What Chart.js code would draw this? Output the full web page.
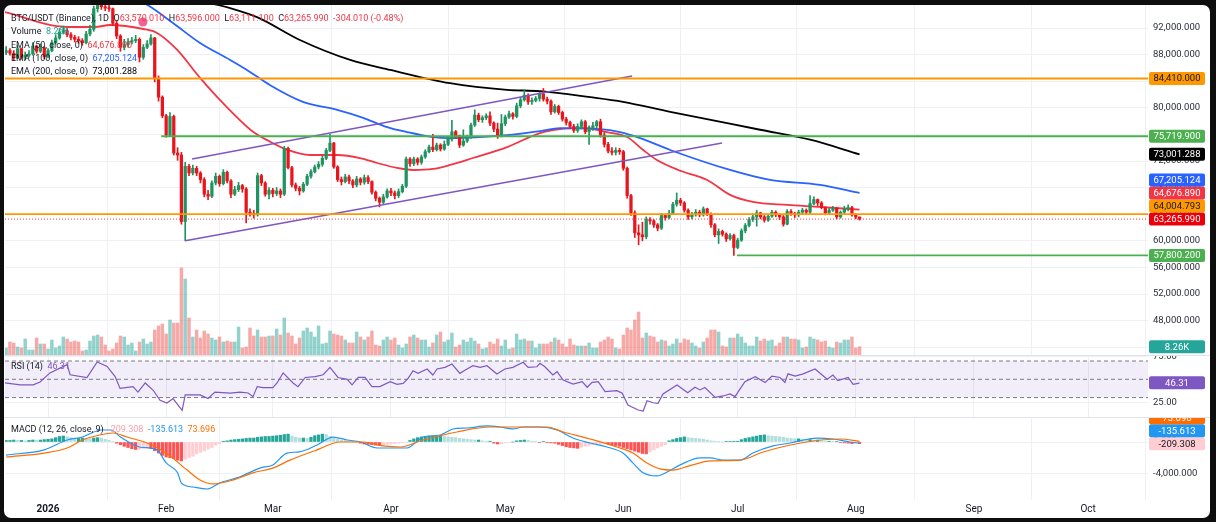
<!DOCTYPE html>
<html>
<head>
<meta charset="utf-8">
<title>BTC/USDT 1D</title>
<script src="https://cdn.jsdelivr.net/npm/chart.js@4.4.1/dist/chart.umd.min.js"></script>
<style>
  html, body { margin: 0; padding: 0; background: #0e0e0e; }
  body { width: 1216px; height: 522px; overflow: hidden; position: relative; font-family: Roboto, "Noto Sans", "DejaVu Sans", sans-serif; }
  #card { position: absolute; left: 4px; top: 5px; width: 1206px; height: 513px; background: #fff; border-radius: 7px; overflow: hidden; }
  .pane { position: absolute; left: 0; width: 1206px; }
  #mainPane { top: 0; height: 350px; }
  #rsiPane { top: 350px; height: 62px; }
  #macdPane { top: 412px; height: 101px; }
  .sep { position: absolute; left: 0; width: 1206px; height: 1px; background: #e0e3eb; }
  .legend { position: absolute; left: 7px; font-size: 9px; line-height: 13.3px; color: #131722; white-space: pre; pointer-events: none; }
  .red { color: #f23645; } .teal { color: #26a69a; } .blue { color: #2962ff; } .blk { color: #000; }
  .pur { color: #7e57c2; } .pink { color: #f7a1a8; } .sky { color: #2196f3; } .org { color: #ff6d00; }
</style>
</head>
<body>
<div id="card">
  <div class="pane" id="mainPane"><canvas id="mainChart"></canvas></div>
  <div class="pane" id="rsiPane"><canvas id="rsiChart"></canvas></div>
  <div class="pane" id="macdPane"><canvas id="macdChart"></canvas></div>
  <div class="sep" style="top:350px"></div>
  <div class="sep" style="top:412px"></div>
  <div class="legend" style="top:7px">BTC/USDT (Binance), 1D  O<span class="red">63,570.010</span>  H<span class="red">63,596.000</span>  L<span class="red">63,111.100</span>  C<span class="red">63,265.990  -304.010 (-0.48%)</span>
Volume  <span class="teal">8.26K</span>
EMA (50, close, 0)  <span class="red">64,676.890</span>
EMA (100, close, 0)  <span class="blue">67,205.124</span>
EMA (200, close, 0)  <span class="blk">73,001.288</span></div>
  <div class="legend" style="top:355px">RSI (14)  <span class="pur">46.31</span></div>
  <div class="legend" style="top:418px">MACD (12, 26, close, 9)  <span class="pink">-209.308</span>  <span class="sky">-135.613</span>  <span class="org">73.696</span></div>
</div>

<script>
// days counted from 1 Jan 2026, prices in thousands of USDT
const firstDay = -11;
const firstOpen = 88.3;

const closes = [
  88.6, 88.2, 87.5, 88.9, 87.6, 87.9, 88.1, 89.3, 88.5, 89.0, 87.7,
  88.6, 89.8, 90.5, 91.4, 91.6, 91.0, 90.6, 90.3, 90.1, 89.8,
  91.1, 91.8, 94.9, 95.4, 95.2, 95.0, 94.9, 92.7, 90.8, 89.1,
  89.5, 89.9, 90.1, 90.3, 87.6, 89.1, 89.6, 90.5, 84.4, 81.6,
  78.8, 75.9, 78.7, 73.2, 72.9, 62.9, 71.2, 70.2, 70.9, 70.2,
  69.2, 67.0, 66.7, 68.7, 69.7, 68.6, 70.3, 69.0, 67.0, 67.7,
  68.3, 67.8, 64.3, 64.1, 63.9, 69.8, 68.7, 67.0, 67.6, 67.1,
  67.5, 67.0, 73.9, 71.0, 68.4, 67.9, 67.5, 68.5, 69.7, 70.4,
  71.1, 71.5, 72.4, 73.6, 74.7, 71.1, 69.2, 68.9, 69.6, 69.0,
  68.4, 69.3, 68.8, 69.5, 68.9, 67.3, 66.4, 65.8, 66.6, 67.5,
  67.2, 66.8, 67.4, 68.2, 72.3, 71.6, 72.3, 71.8, 72.6, 73.4,
  74.1, 73.7, 74.4, 73.8, 74.5, 75.3, 76.4, 75.8, 74.4, 75.0,
  75.6, 77.4, 78.9, 78.2, 78.5, 78.8, 77.7, 76.8, 75.8, 77.6,
  78.6, 79.1, 78.7, 80.3, 81.2, 81.9, 80.9, 81.1, 81.4, 82.1,
  81.3, 81.0, 79.4, 80.2, 79.3, 78.3, 77.8, 77.2, 76.6, 77.2,
  77.9, 76.4, 77.0, 77.3, 77.9, 75.9, 74.5, 73.5, 73.3, 73.6,
  73.4, 70.9, 66.8, 64.2, 61.2, 60.9, 60.6, 63.2, 63.0, 62.4,
  61.9, 63.8, 63.5, 64.1, 65.5, 66.1, 65.7, 64.6, 63.6, 63.9,
  64.3, 63.9, 64.8, 64.0, 62.4, 60.9, 61.4, 61.0, 60.3, 60.8,
  59.0, 60.1, 61.5, 62.3, 63.2, 63.6, 64.2, 63.6, 63.1, 63.7,
  64.3, 63.9, 63.6, 62.5, 64.4, 64.1, 63.9, 64.3, 64.6, 64.3,
  65.6, 66.2, 65.7, 65.0, 64.2, 64.6, 64.9, 63.6, 64.3, 64.8,
  65.0, 63.9, 63.57, 63.26599
];

const highs = [
  89.2, 88.9, 88.6, 89.4, 89.0, 88.4, 88.6, 89.8, 89.4, 89.6, 89.2,
  88.9, 90.2, 91.0, 91.9, 92.3, 91.9, 91.3, 90.9, 90.7, 90.4,
  91.5, 92.4, 95.3, 96.2, 96.0, 95.8, 95.6, 95.0, 93.0, 91.0,
  90.3, 90.4, 90.6, 90.9, 90.5, 89.5, 90.1, 91.0, 90.6, 84.8,
  81.8, 79.0, 79.3, 78.9, 74.0, 73.3, 71.8, 71.5, 71.4, 71.2,
  70.4, 69.5, 67.6, 69.0, 70.2, 69.9, 70.7, 70.5, 69.2, 68.2,
  68.8, 68.5, 68.0, 64.8, 64.6, 70.2, 70.0, 68.9, 68.0, 67.9,
  68.0, 67.8, 74.2, 74.1, 71.2, 68.7, 68.2, 68.8, 70.0, 70.7,
  71.4, 71.9, 72.7, 73.9, 76.0, 74.8, 71.3, 69.6, 70.0, 69.9,
  69.2, 69.7, 69.5, 69.9, 69.8, 69.0, 67.5, 66.6, 67.0, 67.8,
  67.9, 67.5, 67.8, 68.5, 72.6, 72.5, 72.6, 72.5, 72.9, 73.7,
  74.4, 76.0, 74.7, 74.6, 75.0, 75.6, 78.1, 76.6, 75.9, 76.7,
  75.9, 77.7, 79.7, 79.2, 78.8, 79.1, 79.4, 77.9, 77.7, 79.0,
  78.9, 79.5, 79.3, 80.7, 81.6, 82.7, 82.1, 81.5, 81.7, 82.3,
  82.9, 81.6, 81.2, 80.5, 80.4, 79.5, 78.6, 78.0, 77.5, 77.6,
  78.2, 78.1, 77.3, 77.8, 78.1, 78.3, 76.3, 74.8, 74.0, 74.0,
  73.9, 73.6, 71.1, 67.0, 64.5, 62.4, 62.8, 63.6, 63.5, 63.2,
  62.6, 64.1, 64.0, 64.6, 65.8, 67.2, 66.4, 65.9, 64.8, 64.3,
  64.7, 64.6, 65.1, 64.9, 64.2, 62.6, 61.8, 61.6, 61.2, 61.1,
  61.0, 60.4, 61.8, 62.6, 63.5, 64.0, 64.6, 64.3, 63.8, 63.9,
  64.6, 64.5, 64.0, 63.8, 64.7, 64.7, 64.3, 64.6, 64.9, 64.8,
  66.8, 66.6, 66.3, 65.9, 65.1, 64.9, 65.2, 65.0, 64.5, 65.2,
  65.4, 65.2, 64.1, 63.596
];

const lows = [
  88.0, 87.9, 87.1, 87.4, 87.3, 87.2, 87.6, 87.9, 88.2, 88.3, 87.4,
  87.5, 88.4, 89.6, 90.3, 91.1, 90.7, 90.2, 89.9, 89.7, 89.4,
  89.6, 90.8, 91.5, 94.4, 94.8, 94.6, 94.5, 92.4, 90.4, 88.5,
  88.7, 89.1, 89.6, 89.8, 86.9, 87.3, 88.9, 89.4, 83.9, 81.0,
  78.5, 75.6, 75.7, 72.9, 72.1, 62.5, 60.0, 69.8, 69.9, 69.8,
  68.7, 66.6, 66.2, 66.5, 68.4, 68.2, 68.4, 68.7, 66.5, 66.8,
  67.4, 67.3, 62.7, 63.7, 63.4, 63.7, 68.3, 66.7, 66.3, 66.6,
  66.8, 66.5, 66.8, 70.8, 68.1, 67.5, 66.9, 67.3, 68.3, 69.4,
  70.2, 70.8, 71.2, 72.2, 73.4, 70.9, 68.9, 68.4, 68.7, 68.6,
  68.0, 68.1, 68.4, 68.5, 68.6, 67.0, 66.0, 65.1, 65.6, 66.4,
  66.8, 66.3, 66.5, 67.2, 68.0, 71.2, 71.3, 71.4, 71.5, 72.4,
  73.2, 73.4, 73.5, 73.5, 73.6, 74.3, 75.0, 75.4, 74.0, 74.2,
  74.8, 75.4, 77.2, 77.9, 77.8, 78.2, 77.3, 76.4, 75.4, 75.6,
  77.3, 78.4, 78.3, 78.5, 80.0, 81.0, 80.5, 80.5, 80.9, 81.0,
  81.0, 80.6, 79.0, 79.2, 79.0, 78.0, 77.4, 76.9, 76.3, 76.3,
  76.8, 76.1, 74.5, 76.6, 77.0, 75.6, 74.1, 73.2, 72.9, 72.9,
  73.0, 70.6, 66.4, 63.8, 60.5, 59.4, 60.0, 60.3, 62.5, 62.0,
  61.5, 61.7, 63.1, 63.3, 64.0, 65.2, 65.3, 64.3, 63.2, 63.3,
  63.7, 63.6, 63.7, 63.8, 62.0, 60.6, 59.6, 60.7, 59.9, 60.1,
  57.8, 58.8, 59.9, 61.2, 62.1, 62.9, 62.2, 63.3, 62.8, 62.9,
  63.5, 63.6, 63.2, 62.2, 62.4, 63.8, 63.5, 63.6, 64.1, 64.0,
  64.1, 65.4, 65.3, 64.8, 63.9, 64.0, 64.4, 63.3, 63.4, 64.1,
  64.5, 63.7, 63.3, 63.1111
];

// volume in thousands of BTC
const volumes = [
  7, 13, 12, 8, 7, 16, 5, 5, 17, 11, 11,
  6, 15, 7, 9, 18, 16, 13, 14, 13, 4,
  5, 14, 19, 20, 18, 10, 4, 6, 12, 19,
  18, 10, 12, 4, 13, 16, 11, 13, 25, 29,
  31, 21, 35, 32, 32, 87, 76, 37, 18, 25,
  17, 24, 21, 17, 15, 18, 13, 14, 13, 13,
  28, 7, 8, 27, 19, 25, 18, 18, 19, 19,
  26, 20, 37, 22, 19, 11, 17, 24, 27, 23,
  18, 29, 11, 12, 24, 21, 20, 19, 15, 12,
  12, 23, 18, 15, 18, 24, 10, 9, 15, 18,
  15, 17, 10, 7, 11, 18, 20, 17, 15, 15,
  8, 12, 20, 23, 13, 15, 22, 8, 10, 15,
  13, 17, 14, 11, 6, 7, 13, 11, 16, 9,
  15, 6, 7, 21, 15, 16, 14, 14, 7, 11,
  11, 11, 13, 17, 15, 11, 8, 16, 10, 9,
  9, 9, 12, 7, 7, 13, 15, 18, 16, 7,
  6, 20, 27, 25, 35, 43, 17, 22, 19, 18,
  13, 15, 14, 9, 11, 16, 12, 16, 15, 12,
  9, 7, 13, 17, 25, 25, 23, 9, 8, 17,
  17, 21, 18, 12, 9, 9, 18, 14, 16, 14,
  15, 9, 12, 18, 18, 16, 16, 15, 7, 8,
  18, 16, 15, 13, 14, 8, 7, 13, 12, 15,
  15, 18, 7, 8.26
];

// moving averages: [day, price]
const ema50 = [[-11.3,94.4],[5,92.15],[12.3,92.15],[16.3,92.45],[25,91.85],[28.6,91.25],[33.9,88.7],[39.9,84.5],[45.1,81.2],[53.8,76.4],[58.3,74.9],[62.7,73.7],[68.8,72.9],[75.9,72.9],[81.9,72.45],[86.4,71.7],[91.6,70.95],[95.8,70.65],[101,70.8],[105.5,71.4],[111.5,72.45],[120.5,74.1],[129.1,76.2],[134.4,76.8],[140.4,76.95],[146.7,76.35],[152,75.6],[156.2,73.65],[159.8,72.15],[165.4,70.65],[173,69.15],[179,66.9],[185,65.85],[194,65.4],[202.6,65.1],[213,64.67689]];
const ema100 = [[22,96.6],[26,95.5],[32.8,92.75],[39.9,89.75],[47.8,87.2],[52.2,85.7],[58.3,83.4],[66.9,80.9],[75.9,79.7],[82.7,78.5],[89,77.1],[94.2,76.35],[101,75.6],[105.5,75.45],[120.5,75.9],[129.1,76.5],[134.4,76.95],[144.9,76.8],[150.1,76.35],[155.4,75.45],[163.3,73.65],[179,70.65],[189.5,69.15],[202.6,68.4],[213,67.205124]];
const ema200 = [[38,96.3],[44.6,95.46],[47.8,95.0],[55,93.6],[66.1,90.2],[79.3,87.2],[89.8,85.7],[105.5,83.7],[120.5,82.7],[129.1,82.5],[142.3,81.6],[150.9,80.9],[163.3,79.4],[186.9,76.7],[200,75.2],[213,73.001288]];

// drawings
const orangeLevels = [84.41, 64.004793];
const greenLevels = [[29.7, 75.7199], [180.8, 57.8002]];
const channelTop = [[37.8, 72.3], [153.3, 84.78]];
const channelBottom = [[36, 60.0], [176.9, 74.71]];
const eventMarker = [24.9, 92.9];

// RSI(14)
const rsiPts = [[-11.3,46],[-7.3,44],[-3.9,44],[-2.1,47],[0.5,57],[5,66],[5.8,55],[10.2,52],[12.9,69],[15.5,64],[17.6,53],[18.9,40],[22.3,42],[23.6,36],[25.5,46],[27.6,38],[29.4,27],[31.2,24],[32.8,29],[35.2,16],[36,33],[39.9,33],[42,29],[43.8,36],[47.8,35],[50.4,36],[52.5,35],[53.8,31],[54.9,42],[56.4,41],[59,41],[60.1,46],[61.7,57],[64.3,46],[65.6,42],[67.5,52],[70.1,53],[72.2,55],[74,63],[76.1,52],[78.5,50],[79.8,44],[81.4,52],[83.2,52],[85,42],[87.1,42],[89.8,47.4],[91.6,44.5],[93.2,45.5],[94.5,51],[95.8,59.4],[97.1,56.5],[99.5,61.3],[101,54.7],[102.1,61.3],[104.2,63],[106,66.7],[108.1,56.5],[109.4,60],[111.5,64.9],[113.4,63],[115.2,64.9],[117.8,55.8],[119.9,61.3],[122,63],[124.7,68.6],[126,63],[128.3,63.7],[129.1,67.5],[130.4,63.7],[132.5,54.7],[133.6,58.3],[135.2,49.2],[137.8,44.8],[140.2,47.4],[141.5,41.3],[142.8,46.6],[144.4,47.4],[146.2,36.5],[149.3,37.6],[150.7,34.7],[152.2,21.9],[154.9,16.4],[156.2,15.3],[157.2,26.6],[158.8,24.4],[160.1,23.7],[161.4,33.9],[165.1,43.8],[167.9,35.4],[169.8,41.3],[171.1,38.4],[172.4,41],[175.1,30.3],[177.2,31.8],[179,34],[180.3,31.1],[182.9,47.4],[185.6,52.8],[188.2,46.6],[190,53.5],[192.1,52],[193.4,46.6],[194.2,56],[196.1,53.5],[198.2,56],[201.3,61.3],[204.5,50],[206,54.7],[207.3,48.5],[210,52],[211.3,44.5],[212.6,45.5],[213,46.31]];
const rsiGuides = [70, 50, 30];

// MACD(12,26,9)
const macdPts = [[-11,-1650],[-1,-1000],[5,250],[9,630],[14,1520],[16.5,1520],[19,630],[24,-630],[28.6,-1000],[31,-2650],[34,-3900],[35,-5200],[38,-5700],[41.7,-5950],[45,-5200],[50.4,-4400],[55.6,-3300],[59,-2900],[62.7,-1400],[66,-1250],[70.6,-380],[74.8,630],[78.5,250],[82,0],[86.4,-760],[91.6,-760],[94.2,-760],[98.4,630],[102.9,890],[106.3,1650],[110,1770],[115.2,2030],[118.6,1900],[122,1650],[124.7,1900],[129.1,1900],[133.6,1520],[137.8,500],[142.3,-130],[146.7,-630],[150.9,-1400],[153.5,-2650],[156.2,-3900],[159.8,-4300],[162.5,-3800],[165.9,-2900],[171.1,-2000],[173.8,-2000],[177.2,-2300],[181.6,-2300],[185,-1400],[190.3,-500],[194.8,-130],[201.8,500],[206,380],[210.5,0],[213,-135.613]];
const signalPts = [[-11,-1900],[-1,-1400],[5,-760],[9,250],[13.6,890],[17,1140],[20.7,630],[26,-130],[31,-1400],[36.5,-3550],[39.9,-4800],[43.3,-5300],[48.6,-4800],[53.8,-3900],[59,-3300],[63.5,-2300],[70.6,-1000],[76.6,0],[82.7,0],[88,-500],[92.4,-630],[98.4,250],[107.3,1270],[116,1900],[124.7,1900],[131,1900],[135.2,1270],[142.3,380],[149.3,-630],[153.5,-1400],[157.2,-2650],[160.6,-3400],[164,-3550],[168.5,-3000],[173.8,-2400],[181.6,-2300],[187.7,-1270],[194.8,-380],[200.8,130],[207.9,380],[213,73.696]];
const histVals = [
  200, 200, 250, 200, 200, 150, 200, 250, 200, 250, 300,
  350, 400, 550, 700, 760, 650, 550, 400, 450, 500,
  450, 400, 500, 550, 500, 350, 200, 50, -150, -350,
  -550, -700, -850, -950, -900, -800, -750, -850, -1100, -1400,
  -1700, -1900, -2000, -2100, -2300, -2400, -2200, -2000, -1800, -1500,
  -1300, -1100, -900, -700, -400, -200, 100, 150, 250, 300,
  350, 400, 450, 500, 500, 600, 650, 700, 700, 750,
  800, 850, 950, 1000, 750, 600, 500, 500, 450, 600,
  800, 900, 1000, 950, 700, 500, 350, 250, 200, 150,
  100, 50, -150, -250, -300, -350, -400, -450, -350, -300,
  -250, -200, -150, -100, -50, 200, 400, 550, 650, 700,
  750, 750, 750, 750, 700, 650, 600, 550, 450, 400,
  350, 300, 250, 250, 150, 100, 100, -150, -250, -200,
  -100, -50, 0, 150, 200, 250, 200, 100, 50, -50,
  50, -50, -100, -150, -300, -450, -600, -700, -750, -800,
  -650, -550, -450, -350, -300, -250, -200, -250, -350, -450,
  -550, -700, -850, -1000, -1150, -1300, -1450, -1500, -1250, -1000,
  -750, -550, -350, 150, 300, 450, 550, 650, 550, 500,
  450, 400, 350, 250, 150, 100, 50, 0, 50, 50,
  100, 100, 300, 450, 550, 650, 750, 850, 900, 800,
  750, 700, 650, 600, 500, 450, 400, 400, 350, 300,
  300, 250, 250, 150, 100, 100, 50, 50, -50, -100,
  -150, -200, -200, -209.308
];

// axis ticks
const monthDays = [0, 31, 59, 90, 120, 151, 181, 212, 243, 273];
const monthNames = ['2026', 'Feb', 'Mar', 'Apr', 'May', 'Jun', 'Jul', 'Aug', 'Sep', 'Oct'];
const priceTicks = [44, 48, 52, 56, 60, 64, 68, 72, 76, 80, 84, 88, 92];
const rsiTicks = [25, 75];
const macdTicks = [-4000, 0];

const xMin = -11.3, xMax = 288.7;
const AXIS_W = 62;
const GRID = '#eef0f4';
const FONT = 'Roboto, "Noto Sans", sans-serif';

Chart.defaults.font.family = FONT;
Chart.defaults.font.size = 9.5;
Chart.defaults.color = '#131722';
Chart.defaults.animation = false;
Chart.defaults.events = [];
Chart.defaults.plugins.legend.display = false;
Chart.defaults.plugins.tooltip.enabled = false;

const fmt3 = v => v.toLocaleString('en-US', { minimumFractionDigits: 3, maximumFractionDigits: 3 });
const fmtK = v => fmt3(v * 1000);
const pts = arr => arr.map(p => ({ x: p[0], y: p[1] }));
const last = arr => arr[arr.length - 1];

const days = closes.map((c, i) => firstDay + i);
const opens = closes.map((c, i) => i === 0 ? firstOpen : closes[i - 1]);
const isUp = closes.map((c, i) => c >= opens[i]);

// keep the plot area flush with the pane edges
function noPad(s) { s.paddingTop = 0; s.paddingBottom = 0; s.paddingLeft = 0; s.paddingRight = 0; }
const paneLayout = { autoPadding: false, padding: { left: 1, right: 0, top: 0, bottom: 0 } };

function xScale(showLabels) {
  return {
    type: 'linear', min: xMin, max: xMax, offset: false,
    grid: { color: GRID, drawTicks: false },
    border: { display: false },
    afterBuildTicks: s => { s.ticks = monthDays.map(v => ({ value: v })); },
    afterFit: s => { s.height = showLabels ? 18 : 0; noPad(s); },
    ticks: showLabels ? {
      padding: 3, autoSkip: false, maxRotation: 0,
      callback: v => monthNames[monthDays.indexOf(v)],
      font: c => ({ size: 10, weight: c.tick && c.tick.value === 0 ? 'bold' : 'normal' })
    } : { display: false }
  };
}

function yScale(min, max, ticks, fmt) {
  return {
    position: 'right', min: min, max: max,
    grid: { color: GRID, drawTicks: false },
    border: { display: false },
    afterBuildTicks: s => { s.ticks = ticks.map(v => ({ value: v })); },
    afterFit: s => { s.width = AXIS_W; noPad(s); },
    ticks: { padding: 5, autoSkip: false, callback: fmt, color: '#2a2e39' }
  };
}

function hLine(y, from, color, width, dash, order) {
  return { type: 'line', data: [{ x: from, y: y }, { x: xMax, y: y }], borderColor: color, borderWidth: width,
           borderDash: dash || [], pointRadius: 0, pointHoverRadius: 0, fill: false, order: order };
}

// price tags on the right axis, pushed apart like TradingView does
function tagPlugin(groups) {
  return {
    id: 'tags',
    afterDraw(chart) {
      const ctx = chart.ctx, area = chart.chartArea;
      ctx.save();
      ctx.font = '9.5px ' + FONT;
      ctx.textAlign = 'center';
      ctx.textBaseline = 'middle';
      groups.forEach(g => {
        const sc = chart.scales[g.axis];
        const items = g.items.map(t => Object.assign({}, t, { py: sc.getPixelForValue(t.v) }))
                             .sort((a, b) => b.py - a.py);
        let prev = Infinity;
        items.forEach(t => {
          const y = Math.min(t.py, prev - 13);
          prev = y;
          ctx.fillStyle = t.bg;
          ctx.beginPath();
          ctx.roundRect(area.right + 1, y - 6.5, 56, 13, 2);
          ctx.fill();
          ctx.fillStyle = t.fg;
          ctx.fillText(t.text, area.right + 29, y + 0.5);
        });
      });
      ctx.restore();
    }
  };
}

// ---------- main pane ----------
const upCol = '#1f9460', dnCol = '#e8151c';
const candleCols = isUp.map(u => u ? upCol : dnCol);
const volCols = isUp.map(u => u ? 'rgba(38,166,154,0.5)' : 'rgba(239,83,80,0.5)');
const lastClose = last(closes);

new Chart(document.getElementById('mainChart'), {
  type: 'bar',
  data: {
    datasets: [
      { data: days.map((d, i) => ({ x: d, y: volumes[i] })), yAxisID: 'yVol', backgroundColor: volCols,
        barThickness: 2.8, grouped: false, order: 10 },
      { type: 'line', data: pts(ema200), borderColor: '#000000', borderWidth: 1.8, pointRadius: 0, cubicInterpolationMode: 'monotone', order: 6 },
      { type: 'line', data: pts(ema100), borderColor: '#2962ff', borderWidth: 1.8, pointRadius: 0, cubicInterpolationMode: 'monotone', order: 6 },
      { type: 'line', data: pts(ema50), borderColor: '#f23645', borderWidth: 1.8, pointRadius: 0, cubicInterpolationMode: 'monotone', order: 6 },
      { data: days.map((d, i) => ({ x: d, y: [lows[i], highs[i]] })), backgroundColor: candleCols,
        barThickness: 1, grouped: false, order: 4 },
      { data: days.map((d, i) => ({ x: d, y: [opens[i], closes[i]] })), backgroundColor: candleCols,
        barThickness: 2.6, minBarLength: 1, grouped: false, order: 3 },
      hLine(orangeLevels[0], xMin, '#ff9800', 1.8, null, 2),
      hLine(orangeLevels[1], xMin, '#ff9800', 1.8, null, 2),
      hLine(greenLevels[0][1], greenLevels[0][0], '#4caf50', 1.8, null, 2),
      hLine(greenLevels[1][1], greenLevels[1][0], '#4caf50', 1.8, null, 2),
      hLine(lastClose, xMin, '#f23645', 1, [1, 2], 2),
      { type: 'line', data: pts(channelTop), borderColor: '#7e57c2', borderWidth: 1.6, pointRadius: 0, order: 2 },
      { type: 'line', data: pts(channelBottom), borderColor: '#7e57c2', borderWidth: 1.6, pointRadius: 0, order: 2 },
      { type: 'line', data: [{ x: eventMarker[0], y: eventMarker[1] }], showLine: false, pointRadius: 4.5,
        pointBackgroundColor: '#f06292', pointBorderWidth: 0, order: 1 }
    ]
  },
  options: {
    responsive: true, maintainAspectRatio: false,
    layout: paneLayout,
    scales: {
      x: xScale(false),
      y: yScale(42.827, 95.459, priceTicks, fmtK),
      yVol: { display: false, min: 0, max: 350 }
    }
  },
  plugins: [tagPlugin([
    { axis: 'y', items: [
      { v: orangeLevels[0], text: fmtK(orangeLevels[0]), bg: '#ff9800', fg: '#131722' },
      { v: greenLevels[0][1], text: fmtK(greenLevels[0][1]), bg: '#4caf50', fg: '#ffffff' },
      { v: last(ema200)[1], text: fmtK(last(ema200)[1]), bg: '#000000', fg: '#ffffff' },
      { v: last(ema100)[1], text: fmtK(last(ema100)[1]), bg: '#2962ff', fg: '#ffffff' },
      { v: last(ema50)[1], text: fmtK(last(ema50)[1]), bg: '#f23645', fg: '#ffffff' },
      { v: orangeLevels[1], text: fmtK(orangeLevels[1]), bg: '#ff9800', fg: '#131722' },
      { v: lastClose, text: fmtK(lastClose), bg: '#e8000b', fg: '#ffffff' },
      { v: greenLevels[1][1], text: fmtK(greenLevels[1][1]), bg: '#4caf50', fg: '#ffffff' }
    ] },
    { axis: 'yVol', items: [
      { v: last(volumes), text: last(volumes).toFixed(2) + 'K', bg: '#26a69a', fg: '#ffffff' }
    ] }
  ])]
});

// ---------- RSI pane ----------
new Chart(document.getElementById('rsiChart'), {
  type: 'line',
  data: {
    datasets: [
      { data: [{ x: xMin, y: rsiGuides[0] }, { x: xMax, y: rsiGuides[0] }], borderWidth: 0, pointRadius: 0,
        fill: { value: rsiGuides[2] }, backgroundColor: 'rgba(126,87,194,0.1)' },
      hLine(rsiGuides[0], xMin, '#787b86', 1, [4, 3], 2),
      hLine(rsiGuides[1], xMin, '#787b86', 1, [4, 3], 2),
      hLine(rsiGuides[2], xMin, '#787b86', 1, [4, 3], 2),
      { data: pts(rsiPts), borderColor: '#7e57c2', borderWidth: 1.2, pointRadius: 0, order: 1 }
    ]
  },
  options: {
    responsive: true, maintainAspectRatio: false,
    layout: paneLayout,
    scales: {
      x: xScale(false),
      y: yScale(8.8, 76.56, rsiTicks, v => v.toFixed(2))
    }
  },
  plugins: [tagPlugin([
    { axis: 'y', items: [{ v: last(rsiPts)[1], text: last(rsiPts)[1].toFixed(2), bg: '#7e57c2', fg: '#ffffff' }] }
  ])]
});

// ---------- MACD pane ----------
const histCols = histVals.map((v, i) => {
  const p = i === 0 ? v : histVals[i - 1];
  if (v >= 0) return v >= p ? '#26a69a' : '#b2dfdb';
  return v < p ? '#ff5252' : '#ffcdd2';
});

new Chart(document.getElementById('macdChart'), {
  type: 'bar',
  data: {
    datasets: [
      { data: days.map((d, i) => ({ x: d, y: histVals[i] })), backgroundColor: histCols,
        barThickness: 2.6, grouped: false, order: 5 },
      { type: 'line', data: pts(macdPts), borderColor: '#2196f3', borderWidth: 1.2, pointRadius: 0, cubicInterpolationMode: 'monotone', order: 2 },
      { type: 'line', data: pts(signalPts), borderColor: '#ff6d00', borderWidth: 1.2, pointRadius: 0, cubicInterpolationMode: 'monotone', order: 1 }
    ]
  },
  options: {
    responsive: true, maintainAspectRatio: false,
    layout: paneLayout,
    scales: {
      x: xScale(true),
      y: yScale(-7342, 3165, macdTicks, fmt3)
    }
  },
  plugins: [tagPlugin([
    { axis: 'y', items: [
      { v: last(histVals), text: fmt3(last(histVals)), bg: '#ffcdd2', fg: '#131722' },
      { v: last(macdPts)[1], text: fmt3(last(macdPts)[1]), bg: '#2196f3', fg: '#ffffff' },
      { v: last(signalPts)[1], text: fmt3(last(signalPts)[1]), bg: '#ff6d00', fg: '#ffffff' }
    ] }
  ])]
});
</script>
</body>
</html>
